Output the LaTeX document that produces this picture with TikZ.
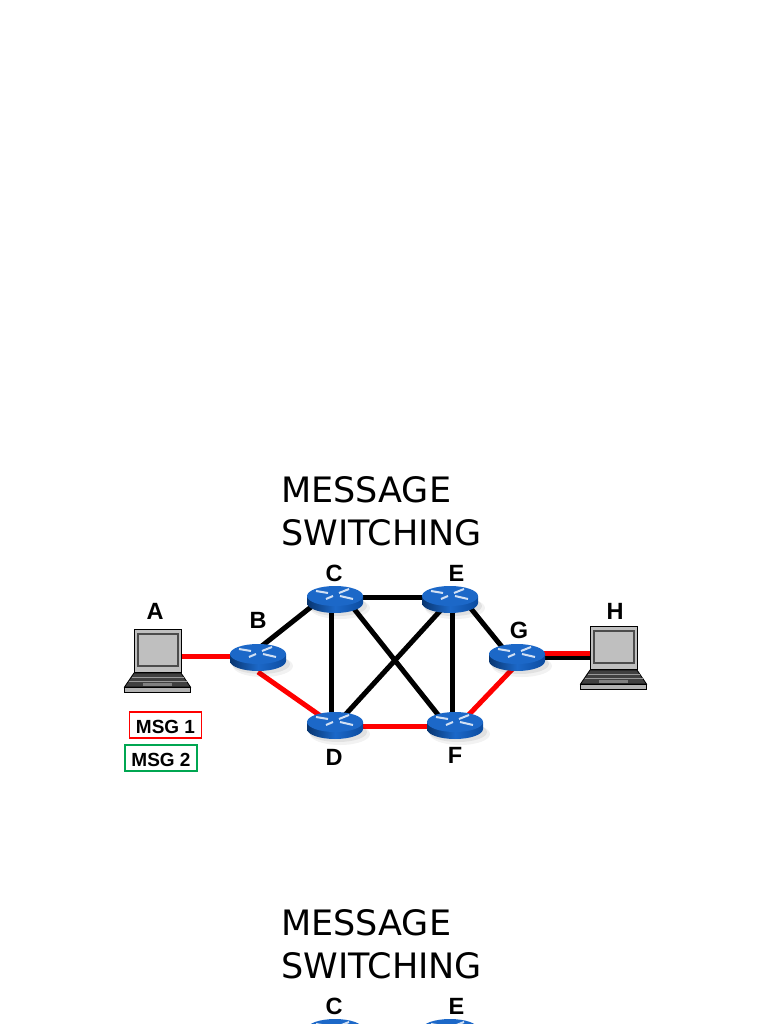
\documentclass[tikz,border=0pt]{standalone}
\usepackage{fontspec}
\setmainfont{Liberation Sans}
\newfontfamily\titlefont{DejaVu Sans}
\usetikzlibrary{calc}
\definecolor{routertop}{RGB}{28,104,200}
\definecolor{routerside}{RGB}{12,76,160}
\definecolor{msggreen}{RGB}{0,166,81}
\tikzset{
    link/.style={line width=5pt},
    blacklink/.style={link,black},
    redlink/.style={link,red},
    lettre/.style={font=\bfseries\fontsize{23.5}{23.5}\selectfont,inner sep=0pt},
    titre/.style={font=\titlefont\fontsize{35}{43}\selectfont,align=left,anchor=north west,inner sep=0pt},
    msgbox/.style={draw=#1,line width=1.4pt,minimum width=72pt,minimum height=26pt,inner sep=0pt,text height=17.5pt,text depth=0pt,font=\bfseries\fontsize{19}{19}\selectfont},
    router/.pic={
      \fill[black,opacity=.05] (5,8) ellipse (30 and 11);
      \fill[black,opacity=.07] (3,6) ellipse (29 and 10);
      \shade[left color=routerside!70!black,right color=routerside,middle color=routertop] (-28,-4) -- (-28,3) arc[start angle=180,end angle=0,x radius=28,y radius=10] -- (28,-4) -- cycle;
      \fill[routertop] (0,-4) ellipse (28 and 10);
      \draw[white,opacity=.8,line width=2pt] (-19,-9) -- (-7,-7) (4,-7) -- (14,-11) (-9,-1) -- (-2,-4) (5,-4) -- (18,-1);
    },
    laptop/.pic={
      %ecran
      \draw[black,fill=black!25,line width=.8pt] (-23.5,-27) rectangle (23.5,16);
      \draw[black!70,fill=black!25,line width=1.2pt] (-19.5,-22) rectangle (20.5,10);
      %clavier
      \draw[black,fill=black!75,line width=.8pt] (-23.5,17) -- (23.5,17) -- (33,31) -- (-33,31) -- cycle;
      \draw[black!40,line width=.6pt] (-26,21) -- (26,21) (-29,25) -- (29,25);
      \fill[black!50] (-14.5,26.5) rectangle (14.5,29.5);
      \draw[black,fill=black!30,line width=.8pt] (-33,31) rectangle (33,36);
    },
}
\begin{document}
\begin{tikzpicture}[x=1pt,y=-1pt]
  \clip (0,0) rectangle (768,1024);
  \coordinate (A) at (157.5,656);
  \coordinate (B) at (258,658);
  \coordinate (C) at (335,600);
  \coordinate (D) at (335,726);
  \coordinate (E) at (450,600);
  \coordinate (F) at (455,726);
  \coordinate (G) at (517,658);
  \coordinate (H) at (613.5,653);
  \coordinate (Cbas) at (335,1033);
  \coordinate (Ebas) at (450,1033);
  \node[titre] (titre1) at (281,476) {MESSAGE\\SWITCHING};
  \node[titre] (titre2) at (281,909) {MESSAGE\\SWITCHING};
  %liens
  \draw[black!45,line width=1.5pt] ([yshift=-2.5pt]A) -- ([yshift=-.5pt]B);
  \draw[redlink] (A) -- ([yshift=2pt]B);
  \draw[blacklink] ([yshift=9pt]B) -- ([yshift=12pt]C);
  \draw[redlink] ([yshift=-14pt]B) -- (D);
  \draw[blacklink] ([yshift=3pt]C) -- ([yshift=3pt]E);
  \draw[blacklink] ([xshift=-4pt]C) -- ([xshift=-4pt]D);
  \draw[blacklink] ([xshift=12pt]C) -- ([xshift=-8pt]F);
  \draw[blacklink] (E) -- (D);
  \draw[blacklink] ([xshift=2pt]E) -- ([xshift=-3pt]F);
  \draw[blacklink] ([xshift=14pt]E) -- ([xshift=-6pt]G);
  \draw[redlink] (D) -- (F);
  \draw[redlink] ([xshift=3pt]F) -- ([xshift=6pt]G);
  \draw[blacklink] ([yshift=1pt]G) -- ([yshift=-4pt]H);
  \draw[redlink] ([yshift=5pt]G) -- (H);
  %routeurs
  \foreach \r in {B,C,D,E,F,G,Cbas,Ebas}
    \pic at (\r) {router};
  \pic at (A) {laptop};
  \pic at (H) {laptop};
  %lettres
  \node[lettre] (lA) at (155,611) {A};
  \node[lettre] (lB) at (258,620) {B};
  \node[lettre] (lC) at (334,573) {C};
  \node[lettre] (lD) at (334,757) {D};
  \node[lettre] (lE) at (456.5,573) {E};
  \node[lettre] (lF) at (455,755) {F};
  \node[lettre] (lG) at (519,630) {G};
  \node[lettre] (lH) at (615,611) {H};
  \node[lettre] (lCbas) at (334,1006) {C};
  \node[lettre] (lEbas) at (456.5,1006) {E};
  \node[msgbox=red] (msg1) at (165.5,725) {MSG 1};
  \node[msgbox=msggreen] (msg2) at (161,758) {MSG 2};
\end{tikzpicture}
\end{document}
